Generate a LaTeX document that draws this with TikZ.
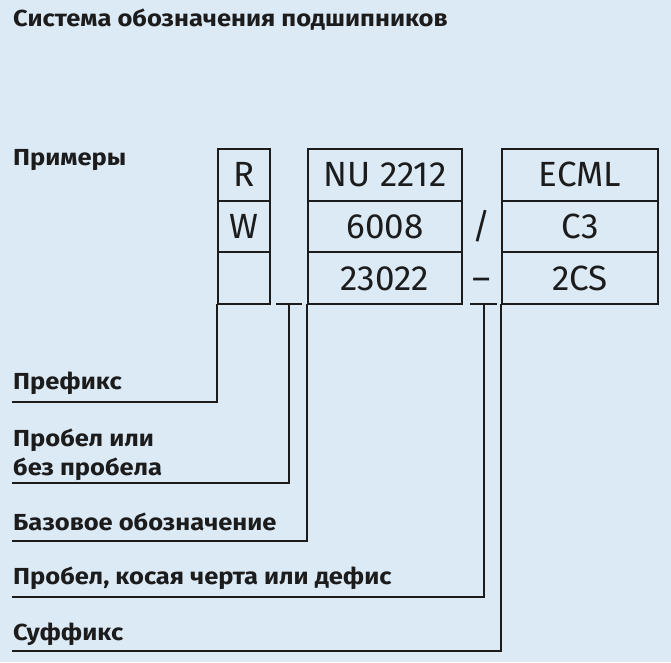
\documentclass[tikz,border=0pt]{standalone}
\usepackage{fontspec}
\setmainfont{Fira Sans}
\newfontfamily\labfont[FakeStretch=1.1]{Fira Sans}
\definecolor{bg}{RGB}{220,234,246}
\definecolor{ink}{RGB}{28,28,28}
\tikzset{
  cell/.style={draw=ink, line width=2pt, minimum height=51.67pt, inner sep=0pt,
    text=ink, font=\fontsize{35}{38}\selectfont, text height=24pt, text depth=0pt},
  pcell/.style={cell, minimum width=52pt},
  bcell/.style={cell, minimum width=154pt},
  scell/.style={cell, minimum width=156pt},
  lab/.style={anchor=base west, inner sep=0pt, text=ink, font=\labfont\bfseries\fontsize{23.2}{28}\selectfont},
  sep/.style={anchor=base, inner sep=0pt, text=ink, font=\fontsize{35}{38}\selectfont},
  conn/.style={draw=ink, line width=2pt, line join=miter, line cap=rect}
}
\begin{document}
\begin{tikzpicture}[x=1pt,y=-1pt]
\fill[bg] (0,0) rectangle (671,662);
\useasboundingbox (0,0) rectangle (671,662);

\node[lab] (title) at (13,26) {Система обозначения подшипников};
\node[lab] (ex) at (13,165) {Примеры};

% prefix column
\node[pcell] (p1) at (244,174.83) {R};
\node[pcell] (p2) at (244,226.5) {W};
\node[pcell] (p3) at (244,278.17) {};
% base column
\node[bcell] (b1) at (385,174.83) {NU 2212};
\node[bcell] (b2) at (385,226.5) {6008};
\node[bcell] (b3) at (385,278.17) {23022};
% suffix column
\node[scell] (s1) at (580,174.83) {ECML};
\node[scell] (s2) at (580,226.5) {C3};
\node[scell] (s3) at (580,278.17) {2CS};

\node[sep] (slash) at (482,238.5) {/};
\node[sep] (dash) at (482,290) {–};

% labels
\node[lab] (l1) at (13,389) {Префикс};
\node[lab] (l2a) at (13,446) {Пробел или};
\node[lab] (l2b) at (13,475) {без пробела};
\node[lab] (l3) at (13,530) {Базовое обозначение};
\node[lab] (l4) at (13,584) {Пробел, косая черта или дефис};
\node[lab] (l5) at (13,640) {Суффикс};

% line ends
\coordinate (e1) at (13,402);
\coordinate (e2) at (13,483);
\coordinate (e3) at (13,541);
\coordinate (e4) at (13,597);
\coordinate (e5) at (13,651);
\coordinate (g1a) at (277,304);
\coordinate (g1b) at (301,304);
\coordinate (g1) at (289,304);
\coordinate (g2a) at (471,304);
\coordinate (g2b) at (496,304);
\coordinate (g2) at (484,304);

\draw[conn] (p3.south west) |- (e1);
\draw[conn] (g1a) -- (g1b);
\draw[conn] (g1) |- (e2);
\draw[conn] (b3.south west) |- (e3);
\draw[conn] (g2a) -- (g2b);
\draw[conn] (g2) |- (e4);
\draw[conn] (s3.south west) |- (e5);
\end{tikzpicture}
\end{document}
